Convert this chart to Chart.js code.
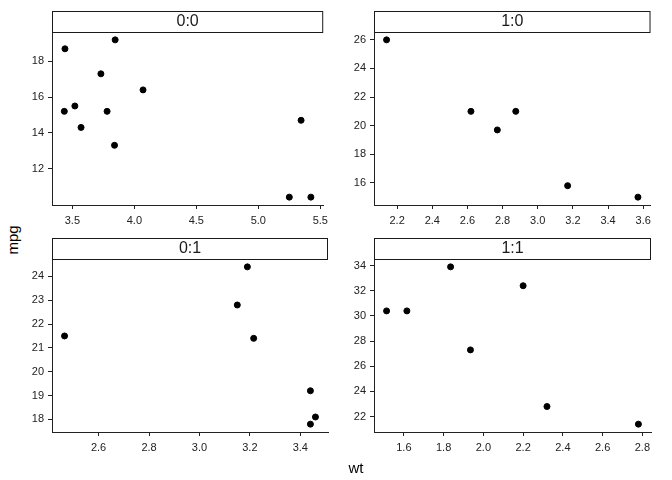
<!DOCTYPE html>
<html>
<head>
<meta charset="utf-8">
<script src="https://cdn.jsdelivr.net/npm/chart.js@4"></script>
<style>
  body { margin: 0; background: #fff; width: 672px; height: 480px; position: relative; overflow: hidden; font-family: "Liberation Sans", Arial, sans-serif; }
  canvas { position: absolute; }
  .ytitle { position: absolute; left: 12px; top: 240px; transform: translate(-50%, -50%) rotate(-90deg); font-size: 15px; color: #000; }
  .xtitle { position: absolute; left: 356px; top: 467px; transform: translate(-50%, -50%); font-size: 15px; color: #000; }
</style>
</head>
<body>
<canvas id="p00" width="311" height="222" style="left:22px;top:11px"></canvas>
<canvas id="p10" width="312" height="222" style="left:344px;top:11px"></canvas>
<canvas id="p01" width="311" height="222" style="left:22px;top:238px"></canvas>
<canvas id="p11" width="312" height="222" style="left:344px;top:238px"></canvas>
<div class="ytitle">mpg</div>
<div class="xtitle">wt</div>
<script>
// panel labels (am:vs)
const panelLabels = ['0:0', '1:0', '0:1', '1:1'];

// am 0, vs 0
const wt00 = [3.44, 3.57, 4.07, 3.73, 3.78, 5.25, 5.424, 5.345, 3.52, 3.435, 3.84, 3.845];
const mpg00 = [18.7, 14.3, 16.4, 17.3, 15.2, 10.4, 10.4, 14.7, 15.5, 15.2, 13.3, 19.2];
// am 1, vs 0
const wt10 = [2.62, 2.875, 2.14, 3.17, 2.77, 3.57];
const mpg10 = [21.0, 21.0, 26.0, 15.8, 19.7, 15.0];
// am 0, vs 1
const wt01 = [2.465, 3.19, 3.15, 3.215, 3.46, 3.44, 3.44];
const mpg01 = [21.5, 24.4, 22.8, 21.4, 18.1, 19.2, 17.8];
// am 1, vs 1
const wt11 = [2.32, 2.2, 1.615, 1.835, 1.935, 1.513, 2.78];
const mpg11 = [22.8, 32.4, 30.4, 33.9, 27.3, 30.4, 21.4];

// tick labels
const xTicks00 = [3.5, 4.0, 4.5, 5.0, 5.5];
const yTicks00 = [12, 14, 16, 18];
const xTicks10 = [2.2, 2.4, 2.6, 2.8, 3.0, 3.2, 3.4, 3.6];
const yTicks10 = [16, 18, 20, 22, 24, 26];
const xTicks01 = [2.6, 2.8, 3.0, 3.2, 3.4];
const yTicks01 = [18, 19, 20, 21, 22, 23, 24];
const xTicks11 = [1.6, 1.8, 2.0, 2.2, 2.4, 2.6, 2.8];
const yTicks11 = [22, 24, 26, 28, 30, 32, 34];

// ggplot style 5% expansion
function expand(arr) {
  const lo = Math.min(...arr), hi = Math.max(...arr);
  const d = (hi - lo) * 0.05;
  return [lo - d, hi + d];
}

const stripPlugin = {
  id: 'strip',
  afterDraw(chart, args, opts) {
    const ctx = chart.ctx, a = chart.chartArea;
    ctx.save();
    ctx.fillStyle = '#fff';
    ctx.strokeStyle = '#1a1a1a';
    ctx.lineWidth = 1;
    ctx.fillRect(a.left, a.top - 21, a.right - a.left, 21);
    ctx.strokeRect(a.left + 0.5, a.top - 20.5, a.right - a.left - 1, 21);
    ctx.fillStyle = '#1a1a1a';
    ctx.font = '16px "Liberation Sans", Arial, sans-serif';
    ctx.textAlign = 'center';
    ctx.textBaseline = 'middle';
    ctx.fillText(opts.text, (a.left + a.right) / 2, a.top - 10);
    ctx.restore();
  }
};

function panel(id, label, wt, mpg, xt, yt, xdec) {
  const xr = expand(wt), yr = expand(mpg);
  const axisCommon = {
    type: 'linear',
    border: { display: true, color: '#222', width: 1 },
    grid: { display: true, drawOnChartArea: false, drawTicks: true, tickLength: 4, color: '#222' }
  };
  new Chart(document.getElementById(id), {
    type: 'scatter',
    data: {
      datasets: [{
        data: wt.map((w, i) => ({ x: w, y: mpg[i] })),
        backgroundColor: '#000',
        borderColor: '#000',
        pointRadius: 3,
        clip: false
      }]
    },
    plugins: [stripPlugin],
    options: {
      responsive: false,
      animation: false,
      devicePixelRatio: 1,
      layout: { padding: { top: 21, right: 5, left: 0, bottom: 0 } },
      plugins: { legend: { display: false }, tooltip: { enabled: false }, strip: { text: label } },
      scales: {
        x: Object.assign({}, axisCommon, {
          min: xr[0], max: xr[1],
          afterBuildTicks: s => { s.ticks = xt.map(v => ({ value: v })); },
          afterFit: s => { s.height = 28; },
          ticks: {
            autoSkip: false, maxRotation: 0, padding: 5,
            color: '#222', font: { family: '"Liberation Sans", Arial, sans-serif', size: 11 },
            callback: v => v.toFixed(xdec)
          }
        }),
        y: Object.assign({}, axisCommon, {
          min: yr[0], max: yr[1],
          afterBuildTicks: s => { s.ticks = yt.map(v => ({ value: v })); },
          afterFit: s => { s.width = 30; },
          ticks: {
            autoSkip: false, padding: 4,
            color: '#222', font: { family: '"Liberation Sans", Arial, sans-serif', size: 11 },
            callback: v => String(v)
          }
        })
      }
    }
  });
}

panel('p00', panelLabels[0], wt00, mpg00, xTicks00, yTicks00, 1);
panel('p10', panelLabels[1], wt10, mpg10, xTicks10, yTicks10, 1);
panel('p01', panelLabels[2], wt01, mpg01, xTicks01, yTicks01, 1);
panel('p11', panelLabels[3], wt11, mpg11, xTicks11, yTicks11, 1);
</script>
</body>
</html>
